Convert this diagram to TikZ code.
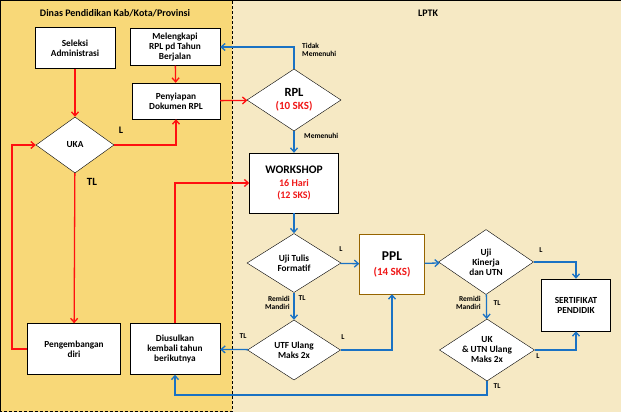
\documentclass[tikz,border=0pt]{standalone}
\usepackage{fontspec}
\setmainfont{Carlito}
\usetikzlibrary{shapes.geometric,arrows.meta}
\definecolor{lpanel}{HTML}{F8D878}
\definecolor{rpanel}{HTML}{F6E9C4}
\definecolor{ared}{HTML}{FF1010}
\definecolor{ablue}{HTML}{1A72C4}
\definecolor{tred}{HTML}{F01818}
\begin{document}
\begin{tikzpicture}[x=1pt,y=-1pt,font=\bfseries\fontsize{9.3}{10}\selectfont,
 box/.style={draw,fill=white,align=center,minimum width=#1,inner sep=1pt},
 dia/.style={diamond,draw,fill=white,align=center,aspect=1.55,inner sep=0pt},
 ra/.style={draw=ared,line width=1.3pt,-{Straight Barb[length=4pt,width=7pt]}},
 ba/.style={draw=ablue,line width=1.3pt,-{Straight Barb[length=4pt,width=7pt]}},
 lb/.style={font=\bfseries\fontsize{7.5}{8}\selectfont,align=left,inner sep=0pt}]
\useasboundingbox (0,0) rectangle (621,412);
\fill[lpanel] (0,0) rectangle (232,412);
\fill[rpanel] (232,0) rectangle (621,412);
\draw[densely dashed,thin] (0.5,0.5) rectangle (232,411.5);
\draw[thick] (0,0) rectangle (621,412);
\node[font=\bfseries\fontsize{10}{11}\selectfont] (t1) at (115,13) {Dinas Pendidikan Kab/Kota/Provinsi};
\node[font=\bfseries\fontsize{10}{11}\selectfont] (t2) at (428,13) {LPTK};
% nodes
\node[box=80pt,minimum height=41pt] (sel) at (75,48) {Seleksi\\Administrasi};
\node[box=90pt,minimum height=37pt] (mel) at (175,47) {Melengkapi\\RPL pd Tahun\\Berjalan};
\node[box=88pt,minimum height=36pt] (pen) at (176,101) {Penyiapan\\Dokumen RPL};
\node[dia,minimum width=94pt,minimum height=62pt] (rpl) at (294,100) {\fontsize{12.5}{14}\selectfont RPL\\[3pt]\fontsize{11}{13}\selectfont\color{tred}(10 SKS)};
\node[dia,minimum width=78pt,minimum height=56pt] (uka) at (75,145) {UKA};
\node[box=89pt,minimum height=60pt] (ws) at (294,183) {\fontsize{11.5}{13}\selectfont WORKSHOP\\[3pt]\fontsize{10}{13}\selectfont\color{tred}16 Hari\\[2pt]\fontsize{10}{13}\selectfont\color{tred}(12 SKS)};
\node[dia,minimum width=94pt,minimum height=59pt] (ut) at (294,263) {Uji Tulis\\Formatif};
\node[box=65pt,minimum height=60pt,draw={rgb,255:red,150;green,100;blue,0}] (ppl) at (392,264) {\fontsize{13.5}{16}\selectfont PPL\\[5pt]\fontsize{11}{13}\selectfont\color{tred}(14 SKS)};
\node[dia,minimum width=95pt,minimum height=65pt] (uk) at (486,262) {Uji\\Kinerja\\dan UTN};
\node[box=69pt,minimum height=52pt] (ser) at (576,305) {SERTIFIKAT\\PENDIDIK};
\node[dia,minimum width=93pt,minimum height=60pt] (utf) at (294,350) {UTF Ulang\\Maks 2x};
\node[dia,minimum width=95pt,minimum height=62pt] (uku) at (487,350) {UK\\\& UTN Ulang\\Maks 2x};
\node[box=93pt,minimum height=51pt] (pd) at (74,349) {Pengembangan\\diri};
\node[box=90pt,minimum height=51pt] (du) at (175,349) {Diusulkan\\kembali tahun\\berikutnya};
\coordinate (c1) at (12,349);
% red arrows
\draw[ra] (sel) -- (uka);
\draw[ra] (uka.east) -| (pen.south);
\draw[ra] (uka) -- (pd);
\draw[ra] (pd.west) -- (c1) |- (uka.west);
\draw[ra] (mel) -- (pen);
\draw[ra] (pen) -- (rpl);
\draw[ra] (du.north) |- (ws.west);
% blue arrows
\draw[ba] (rpl.north) |- (mel.east);
\draw[ba] (rpl) -- (ws);
\draw[ba] (ws) -- (ut);
\draw[ba] (ut) -- (ppl);
\draw[ba] (ut) -- (utf);
\draw[ba] (utf) -- (du);
\draw[ba] (utf.east) -| (ppl.south);
\draw[ba] (ppl) -- (uk);
\draw[ba] (uk.east) -| (ser.north);
\draw[ba] (uk) -- (uku);
\draw[ba] (uku.east) -| (ser.south);
\coordinate (c2) at (487,395);
\draw[ba] (uku.south) -- (c2) -| (du.south);
% labels
\node[font=\bfseries\fontsize{10}{11}\selectfont] (l1) at (121,130) {L};
\node[font=\bfseries\fontsize{11}{12}\selectfont] (l2) at (92,182) {TL};
\node[lb,anchor=west] (l3) at (302,50) {Tidak\\Memenuhi};
\node[lb,anchor=west] (l4) at (304,136) {Memenuhi};
\node[lb] (l5) at (341,249) {L};
\node[lb,align=right,anchor=east] (l6) at (290,303) {Remidi\\Mandiri};
\node[lb] (l7) at (302,298) {TL};
\node[lb] (l8) at (243,336) {TL};
\node[lb] (l9) at (343,337) {L};
\node[lb] (l10) at (541,250) {L};
\node[lb,align=right,anchor=east] (l11) at (481,303) {Remidi\\Mandiri};
\node[lb] (l12) at (497,303) {TL};
\node[lb] (l13) at (538,356) {L};
\node[lb] (l14) at (497,386) {TL};
\end{tikzpicture}
\end{document}
